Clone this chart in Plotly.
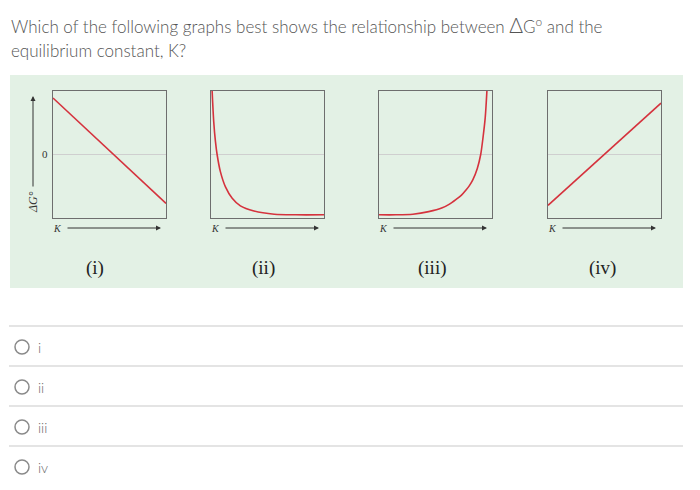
import plotly.graph_objects as go

W, H = 700, 490

# ---- data ----
panel_labels = ["(i)", "(ii)", "(iii)", "(iv)"]
k_i = [0.0, 1.0]
dg_i = [0.89, -0.77]
k_ii = [0.01, 0.024, 0.039, 0.054, 0.083, 0.128, 0.1875, 0.26, 0.38, 0.56, 0.75, 1.0]
dg_ii = [1.0, 0.52, 0.21, 0.0, -0.27, -0.51, -0.69, -0.81, -0.89, -0.94, -0.95, -0.95]
k_iii = [0.0, 0.15, 0.3, 0.44, 0.56, 0.62, 0.68, 0.73, 0.77, 0.80, 0.83, 0.87, 0.90, 0.92, 0.94, 0.955]
dg_iii = [-0.95, -0.95, -0.94, -0.90, -0.84, -0.785, -0.71, -0.64, -0.56, -0.49, -0.40, -0.22, 0.0, 0.26, 0.58, 1.0]
k_iv = [0.0, 1.0]
dg_iv = [-0.80, 0.81]
option_labels = ["i", "ii", "iii", "iv"]
question_lines = ["Which of the following graphs best shows the relationship between "
                  "<span style='font-size:21px'>Δ</span>G<sup>o</sup> and the",
                  "equilibrium constant, K?"]

series = [(k_i, dg_i), (k_ii, dg_ii), (k_iii, dg_iii), (k_iv, dg_iv)]

# pixel layout of the four small plots
panel_left = [53, 211, 379, 548]
panel_w = 113
top_px, bot_px = 91, 218

def fx(px):
    return px / W

def fy(py):
    return 1 - py / H

fig = go.Figure()
RED = "#d5323d"
for i, (k, dg) in enumerate(series):
    n = "" if i == 0 else str(i + 1)
    fig.add_trace(go.Scatter(x=k, y=dg, mode="lines", line=dict(color=RED, width=1.6, shape="spline", smoothing=0.8),
                             xaxis="x" + n, yaxis="y" + n, showlegend=False, hoverinfo="skip"))
    ax_common = dict(showticklabels=False, ticks="", showgrid=False, showline=True, mirror=True,
                     linecolor="#6e6e6e", linewidth=1, fixedrange=True)
    fig.layout["xaxis" + n] = dict(domain=[fx(panel_left[i]), fx(panel_left[i] + panel_w)], range=[0, 1],
                                   zeroline=False, anchor="y" + n, **ax_common)
    fig.layout["yaxis" + n] = dict(domain=[fy(bot_px), fy(top_px)], range=[-1, 1], zeroline=True,
                                   zerolinecolor="#cfcfcf", zerolinewidth=1, anchor="x" + n, **ax_common)

shapes = []
# green panel
shapes.append(dict(type="rect", xref="paper", yref="paper", x0=fx(10), x1=fx(683), y0=fy(288), y1=fy(75),
                   fillcolor="#e3f1e5", line=dict(width=0), layer="below"))
# option separators
for py in [326, 366, 406, 446]:
    shapes.append(dict(type="line", xref="paper", yref="paper", x0=fx(9), x1=fx(683), y0=fy(py), y1=fy(py),
                       line=dict(color="#e4e4e4", width=2)))
# radio circles
for py in [347, 387, 427, 467]:
    shapes.append(dict(type="circle", xref="paper", yref="paper", x0=fx(15), x1=fx(29), y0=fy(py + 7), y1=fy(py - 7),
                       line=dict(color="#8a8a8a", width=1.5)))

ann = []
for line, py in zip(question_lines, [25, 50]):
    ann.append(dict(text=line, xref="paper", yref="paper", x=fx(9), y=fy(py), xanchor="left", yanchor="middle",
                    align="left", showarrow=False, font=dict(family="Lato", size=17, weight=300, color="#555555")))
# y-axis arrow and label
ann.append(dict(x=fx(33), y=fy(96), xref="paper", yref="paper", ax=0, ay=92, axref="pixel", ayref="pixel",
                showarrow=True, arrowhead=2, arrowsize=1, arrowwidth=1, arrowcolor="#333333", text=""))
ann.append(dict(text="<i>ΔG°</i>", x=fx(33), y=fy(202), xref="paper", yref="paper", showarrow=False, textangle=-90,
                xanchor="center", yanchor="middle",
                font=dict(family="Liberation Serif", size=12, color="#333333")))
ann.append(dict(text="0", x=fx(50), y=fy(154), xref="paper", yref="paper", showarrow=False, xanchor="right",
                yanchor="middle", font=dict(family="Liberation Serif", size=11, color="#333333")))
for i, left in enumerate(panel_left):
    ann.append(dict(text="<i>K</i>", x=fx(left + 4), y=fy(228), xref="paper", yref="paper", showarrow=False,
                    xanchor="center", yanchor="middle",
                    font=dict(family="Liberation Serif", size=10, color="#333333")))
    ann.append(dict(x=fx(left + 108), y=fy(228), xref="paper", yref="paper", ax=-95, ay=0, axref="pixel", ayref="pixel",
                    showarrow=True, arrowhead=2, arrowsize=1, arrowwidth=1, arrowcolor="#333333", text=""))
for i, cx in enumerate([95, 263, 432, 602]):
    ann.append(dict(text=panel_labels[i], x=fx(cx), y=fy(268), xref="paper", yref="paper",
                    showarrow=False, xanchor="center", yanchor="middle",
                    font=dict(family="Liberation Serif", size=19, color="#222222")))
for j, py in enumerate([347, 387, 427, 467]):
    ann.append(dict(text=option_labels[j], x=fx(36), y=fy(py), xref="paper", yref="paper", xanchor="left",
                    yanchor="middle", showarrow=False,
                    font=dict(family="Lato", size=14, weight=300, color="#666666")))

fig.update_layout(width=W, height=H, margin=dict(l=0, r=0, t=0, b=0), paper_bgcolor="white",
                  plot_bgcolor="white", shapes=shapes, annotations=ann, showlegend=False)
fig.write_html("out.html", config={"displayModeBar": False},
               post_script="document.body.style.margin='0';")
